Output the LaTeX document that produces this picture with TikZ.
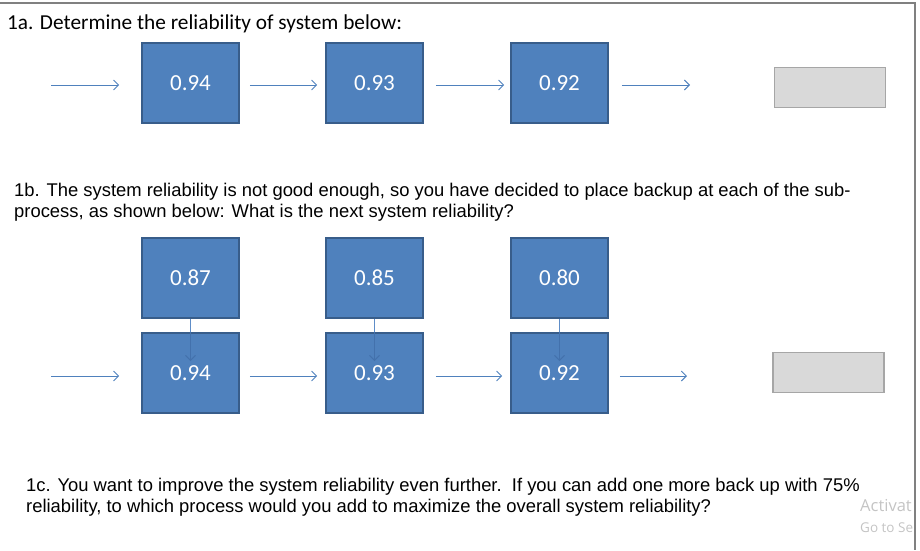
\documentclass[tikz,border=0pt]{standalone}
\usepackage{fontspec}
\setmainfont{Liberation Sans}
\newfontfamily\calib{Carlito}
\newfontfamily\opsans{Open Sans}
\usetikzlibrary{arrows.meta,calc}
\definecolor{boxfill}{HTML}{4F81BD}
\definecolor{boxline}{HTML}{385D8A}
\definecolor{arrowc}{HTML}{4F81BD}
\definecolor{linkc}{HTML}{5E8DC8}
\definecolor{linkin}{HTML}{4371AC}
\definecolor{resfill}{HTML}{D9D9D9}
\definecolor{resline}{HTML}{A6A6A6}
\definecolor{frame}{HTML}{808080}
\definecolor{wm}{HTML}{C4C4C4}
\tikzset{
  blk/.style={draw=boxline, line width=1.6pt, fill=boxfill, minimum width=97pt, minimum height=80pt, inner sep=0pt, text=white, font=\calib\fontsize{23}{26}\selectfont},
  result/.style={draw=resline, line width=1.8pt, fill=resfill, minimum width=111pt, minimum height=40pt, inner sep=0pt},
  flow/.style={draw=arrowc, line width=0.9pt, -{Straight Barb[length=5pt,width=10pt,line width=0.9pt]}},
  link/.style={draw=linkc, line width=0.9pt},
  linktip/.style={draw=linkin, line width=0.9pt, -{Straight Barb[length=5pt,width=10pt,line width=0.9pt]}},
  txt/.style={anchor=base west, inner sep=0pt, font=\fontsize{18.4}{21}\selectfont},
  wmark/.style={anchor=base west, inner sep=0pt, text=wm},
}
\begin{document}
\begin{tikzpicture}[x=1pt,y=-1pt]
\useasboundingbox (0,0) rectangle (920,550);
\draw[frame, line width=2pt] (0,3) -- (915,3) -- (915,550);
\node[txt, font=\calib\fontsize{21.3}{24}\selectfont] (t1) at (7,29) {1a. Determine the reliability of system below:};
% row 1
\coordinate (a0) at (51,85);
\coordinate (a4) at (690,85);
\node[blk] (a1) at (190.5,83) {0.94};
\node[blk] (a2) at (374.5,83) {0.93};
\node[blk] (a3) at (559.5,83) {0.92};
\node[result] (ra) at (830,87.5) {};
\draw[flow] (a0) -- ($(a1.west)+(-22,2)$);
\draw[flow] ($(a1.east)+(10,2)$) -- ($(a2.west)+(-8,2)$);
\draw[flow] ($(a2.east)+(12,2)$) -- ($(a3.west)+(-6,2)$);
\draw[flow] ($(a3.east)+(13,2)$) -- (a4);
% 1b text
\node[txt] (t2a) at (14,196) {1b. The system reliability is not good enough, so you have decided to place backup at each of the sub-};
\node[txt] (t2b) at (14,217) {process, as shown below: What is the next system reliability?};
% row 2
\node[blk] (u1) at (190.5,278) {0.87};
\node[blk] (u2) at (374.5,278) {0.85};
\node[blk] (u3) at (559.5,278) {0.80};
\node[blk] (b1) at (190.5,373) {0.94};
\node[blk] (b2) at (374.5,373) {0.93};
\node[blk] (b3) at (559.5,373) {0.92};
\foreach \i in {1,2,3}{
  \coordinate (m\i) at ($(b\i.center)+(0,-12)$);
  \draw[link] (u\i.south) -- (b\i.north);
  \draw[linktip] (b\i.north) -- (m\i);
}
\node[result] (rb) at (828.5,372.5) {};
\coordinate (c0) at (51,376);
\coordinate (c4) at (687,376);
\draw[flow] (c0) -- ($(b1.west)+(-22,3)$);
\draw[flow] ($(b1.east)+(10,3)$) -- ($(b2.west)+(-8,3)$);
\draw[flow] ($(b2.east)+(12,3)$) -- ($(b3.west)+(-8,3)$);
\draw[flow] ($(b3.east)+(11,3)$) -- (c4);
% 1c text
\node[txt] (t3a) at (26,491) {1c. You want to improve the system reliability even further.\ \ If you can add one more back up with 75\%};
\node[txt] (t3b) at (26,512) {reliability, to which process would you add to maximize the overall system reliability?};
% watermark (as far as it is visible)
\node[wmark, font=\opsans\fontsize{16.5}{19}\selectfont] (w1) at (860,511) {Activat};
\node[wmark, font=\opsans\fontsize{13.5}{16}\selectfont] (w2) at (860,532) {Go to Se};
\end{tikzpicture}
\end{document}
